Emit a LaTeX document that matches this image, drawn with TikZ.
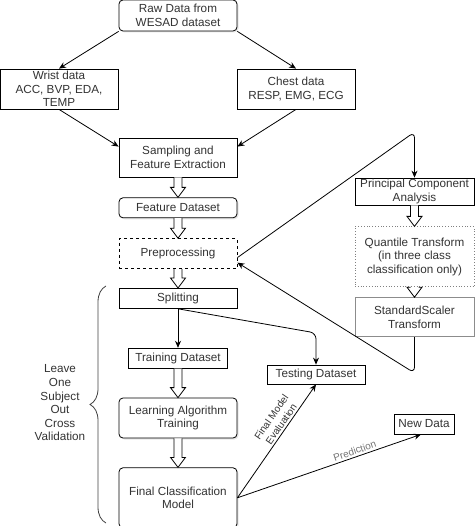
\documentclass[tikz,border=0pt]{standalone}
\usepackage{fontspec}
\setmainfont{Liberation Sans}
\usetikzlibrary{positioning,calc,arrows.meta,shadows,decorations.pathreplacing}

\tikzset{
  box/.style={draw, line width=0.8pt, minimum width=118pt, inner sep=1pt, align=center, text=black!80, fill=white},
  roundbox/.style={box, rounded corners=4pt, drop shadow={shadow xshift=1.5pt, shadow yshift=-1.5pt, opacity=0.2}},
  arr/.style={line width=0.8pt, -{Stealth[length=7pt, width=6pt]}},
  hollowstyle/.style={line width=0.8pt, fill=white},
  smalllabel/.style={font=\fontsize{10}{12}\selectfont, align=center, inner sep=2pt},
}

% open block arrow from the bottom of one node to the top of the next
\newcommand{\hollowarrow}[2]{%
  \filldraw[hollowstyle] ($(#1.south)+(-4,0)$) -- ($(#2.north)+(-4,-10)$) -- ($(#2.north)+(-7.5,-10)$)
    -- (#2.north) -- ($(#2.north)+(7.5,-10)$) -- ($(#2.north)+(4,-10)$) -- ($(#1.south)+(4,0)$);}

\begin{document}
\begin{tikzpicture}[x=1pt, y=-1pt, font=\fontsize{11.7}{13.6}\selectfont, node distance=20pt]
  \useasboundingbox (0,0) rectangle (474,526);

  % data sources
  \node[roundbox, minimum height=31pt] (raw) at (178,15.5) {Raw Data from\\WESAD dataset};
  \node[box, minimum height=40pt, inner ysep=0pt] (wrist) at (59,89) {Wrist data\\ACC, BVP, EDA,\\TEMP};
  \node[box, minimum height=40pt] (chest) at (296,89) {Chest data\\RESP, EMG, ECG};

  % main column
  \node[box, minimum height=39pt] (samp) at (178,157.5) {Sampling and\\Feature Extraction};
  \node[roundbox, minimum height=20pt, below=of samp] (feat) {Feature Dataset};
  \node[box, dashed, minimum height=30pt, below=of feat] (prep) {Preprocessing};
  \node[box, minimum height=20pt, below=19pt of prep] (split) {Splitting};
  \node[box, minimum width=99pt, minimum height=20pt, below=39pt of split] (train) {Training Dataset};
  \node[roundbox, minimum height=40pt, below=29pt of train] (learn) {Learning Algorithm\\Training};
  \node[roundbox, minimum height=60pt, below=29pt of learn] (final) {Final Classification\\Model};

  % right column
  \node[box, minimum width=119pt, minimum height=27pt] (pca) at (414.5,191.5) {Principal Component\\Analysis};
  \node[box, draw=black!50, dotted, minimum width=119pt, minimum height=60pt, below=21pt of pca] (quant) {Quantile Transform\\(in three class\\classification only)};
  \node[box, draw=black!45, minimum width=119pt, minimum height=39pt, below=10pt of quant] (ssc) {StandardScaler\\Transform};

  \node[box, minimum width=98pt, minimum height=19pt] (test) at (316,374.5) {Testing Dataset};
  \node[box, minimum width=60pt, minimum height=20pt] (newd) at (424,424) {New Data};

  % cross validation brace
  \coordinate (bracebot) at (106,523);
  \coordinate (bracetop) at (106,286);
  \draw[decorate, decoration={brace, amplitude=16pt}, line width=0.8pt, black!75] (bracebot) -- (bracetop);
  \node[align=center, text=black!80] (loso) at (60,403) {Leave\\One\\Subject\\Out\\Cross\\Validation};

  % connectors
  \draw[arr] (raw.south west) -- (wrist.north);
  \draw[arr] (raw.south east) -- (chest.north);
  \draw[arr] (wrist.south) -- ($(samp.north west)+(0,9)$);
  \draw[arr] (chest.south) -- ($(samp.north east)+(0,9)$);

  \hollowarrow{samp}{feat}
  \hollowarrow{feat}{prep}
  \hollowarrow{prep}{split}
  \hollowarrow{train}{learn}
  \hollowarrow{learn}{final}
  \hollowarrow{pca}{quant}
  \hollowarrow{quant}{ssc}

  \coordinate (turnA) at (0,132);
  \coordinate (turnB) at (0,373);
  \coordinate (turnC) at (0,333);
  \draw[arr, rounded corners=6pt] ($(prep.east)+(0,4)$) -- (pca.north |- turnA) -- (pca.north);
  \draw[arr, rounded corners=6pt] (ssc.south) -- (ssc.south |- turnB) -- ($(prep.east)+(0,9)$);

  \draw[arr] (split.south) -- (train.north);
  \draw[arr, rounded corners=6pt] (split.south) -- (test.north |- turnC) -- (test.north);

  \draw[arr] (final.east) -- (test.south)
    node[smalllabel, pos=.62, above, sloped, text=black!80] {Final Model\\Evaluation};
  \draw[arr] (final.east) -- ($(newd.south)+(-3,0)$)
    node[smalllabel, pos=.65, above, sloped, text=black!55] {Prediction};
\end{tikzpicture}
\end{document}
